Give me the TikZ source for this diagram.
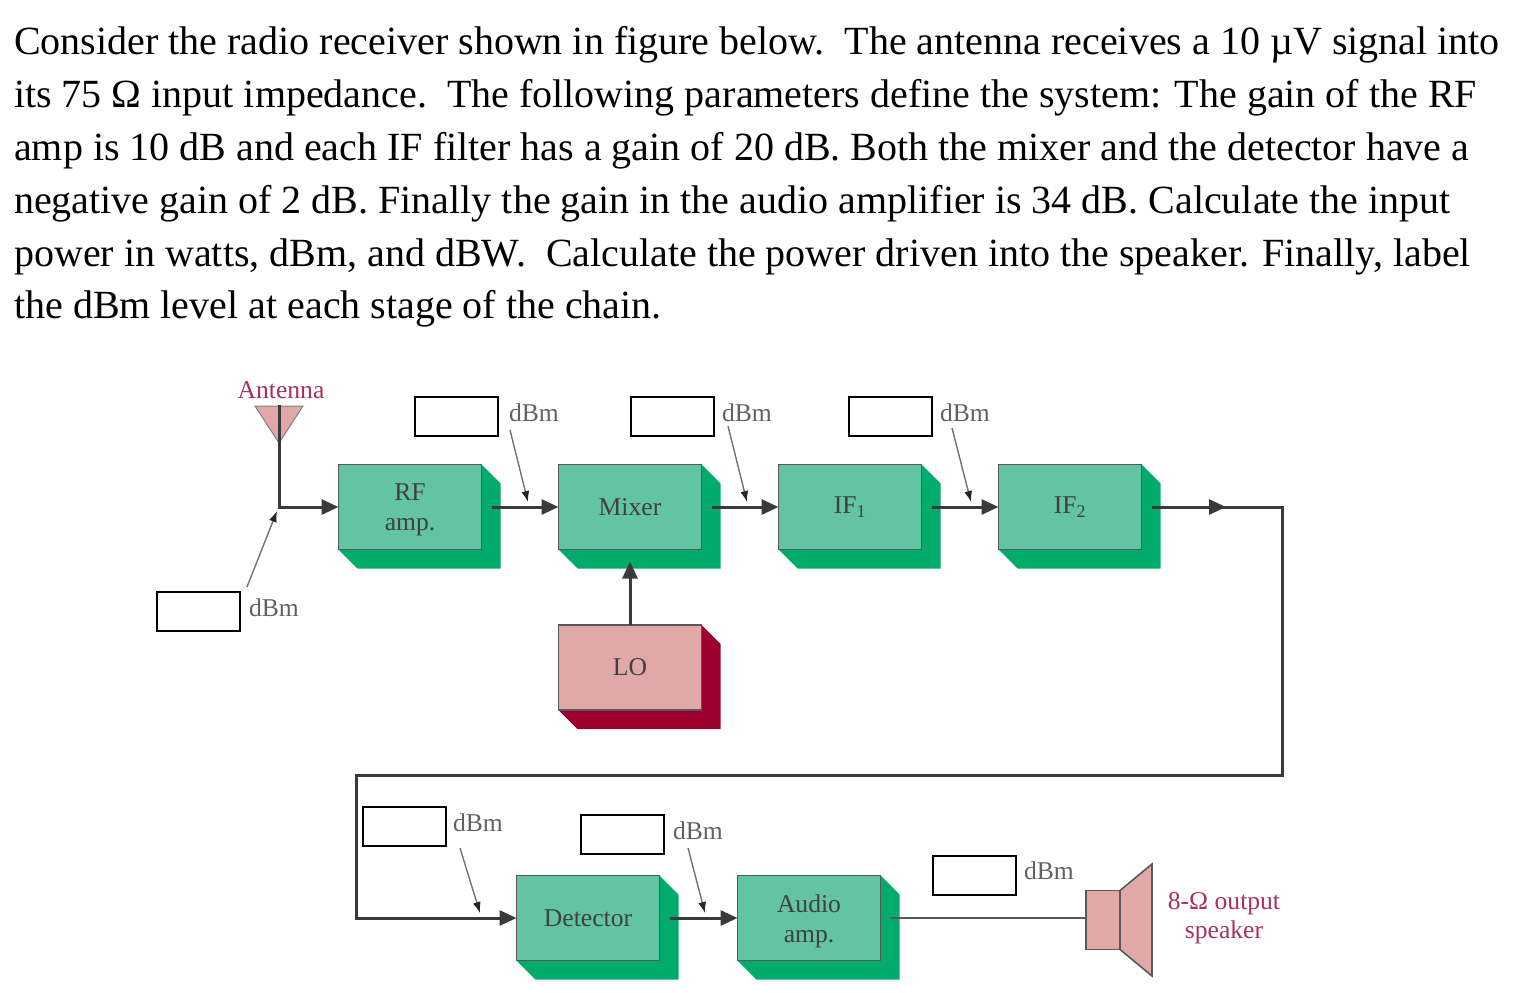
\documentclass[tikz,border=0pt]{standalone}
\usepackage{fontspec}
\setmainfont{Liberation Serif}
\usetikzlibrary{arrows.meta}
\definecolor{gfront}{HTML}{62C4A2}
\definecolor{gside}{HTML}{00AB6C}
\definecolor{pfront}{HTML}{E0A8A6}
\definecolor{pside}{HTML}{9C002F}
\definecolor{crim}{HTML}{A8305F}
\definecolor{wire}{HTML}{3A3A3A}
\tikzset{
  para/.style={anchor=base west,inner sep=0pt,font=\fontsize{40pt}{42pt}\selectfont,text=black},
  front/.style={draw=wire!85,line width=1.4pt,outer sep=0pt,minimum width=143pt,minimum height=85pt,inner sep=0pt,align=center,font=\fontsize{25.6pt}{30pt}\selectfont,text=black!75},
  blank/.style={draw=black,fill=white,line width=1.6pt,outer sep=0pt,minimum width=83pt,minimum height=39pt,inner sep=0pt},
  unit/.style={inner sep=0pt,font=\fontsize{25.6pt}{28pt}\selectfont,text=black!62},
  crimtext/.style={inner sep=0pt,align=center,font=\fontsize{25.6pt}{29pt}\selectfont,text=crim},
  conn/.style={draw=wire,line width=3pt},
  flow/.style={conn,-{Triangle[length=17pt,width=15pt]}},
  pointer/.style={draw=black!55,line width=1.4pt,-{Latex[length=11pt,width=8pt,color=black!85]}}
}
\newcommand{\shadeblock}[6]{%
  \fill[#6] (#2+143,#3) -- ++(19,19) -- ++(0,85) -- ++(-143,0) -- ++(-19,-19) -- cycle;
  \node[front,fill=#5,anchor=north west] (#1) at (#2,#3) {#4};
}
\newcommand{\stagebox}[3]{\node[blank,anchor=north west] (#1) at (#2+0.8,#3+0.8) {};}
\begin{document}
\begin{tikzpicture}[x=1pt,y=-1pt]
\useasboundingbox (0,0) rectangle (1519,993);
\node[para] (l1) at (14,54) {Consider the radio receiver shown in figure below.\ \ The antenna receives a 10 µV signal into};
\node[para] (l2) at (14,107) {its 75 Ω input impedance.\ \ The following parameters define the system: The gain of the RF};
\node[para] (l3) at (14,160) {amp is 10 dB and each IF filter has a gain of 20 dB. Both the mixer and the detector have a};
\node[para] (l4) at (14,213) {negative gain of 2 dB. Finally the gain in the audio amplifier is 34 dB. Calculate the input};
\node[para] (l5) at (14,266) {power in watts, dBm, and dBW.\ \ Calculate the power driven into the speaker. Finally, label};
\node[para] (l6) at (14,318) {the dBm level at each stage of the chain.};

\shadeblock{rf}{338.5}{464.5}{\rule{0pt}{22pt}RF\\amp.}{gfront}{gside}
\shadeblock{mix}{558.5}{464.5}{Mixer}{gfront}{gside}
\shadeblock{ifa}{778.5}{464.5}{IF\textsubscript{1}}{gfront}{gside}
\shadeblock{ifb}{998.5}{464.5}{IF\textsubscript{2}}{gfront}{gside}
\shadeblock{lo}{558.5}{625}{LO}{pfront}{pside}
\shadeblock{det}{516.5}{875.5}{Detector}{gfront}{gside}
\shadeblock{aud}{737.5}{875.5}{\rule{0pt}{24pt}Audio\\amp.}{gfront}{gside}

% antenna
\coordinate (anttop) at (279,406);
\coordinate (antjoin) at (279,507);
\fill[pfront,draw=black!50,line width=1pt] (255,406) -- (303,406) -- (279,443) -- cycle;
\draw[conn,line cap=rect] (anttop) -- (antjoin);
\draw[flow] (antjoin) -- (rf.west);
\node[crimtext] (antlabel) at (281,390) {Antenna};

% chain
\draw[flow] ([xshift=10pt]rf.east) -- (mix.west);
\draw[flow] ([xshift=10pt]mix.east) -- (ifa.west);
\draw[flow] ([xshift=10pt]ifa.east) -- (ifb.west);
\draw[flow] (lo.north) -- ([yshift=-12pt]mix.south);

% long wire
\coordinate (wa) at (1226,507);
\coordinate (wb) at (1282,507);
\coordinate (wc) at (1282,775);
\coordinate (wd) at (356,775);
\draw[conn,line join=miter] ([xshift=10pt]ifb.east) -- (wb) -- (wc) -- (wd) |- ([xshift=-10pt]det.west);
\draw[flow] ([xshift=10pt]ifb.east) -- (wa);
\draw[flow] (wd |- det.west) -- (det.west);
\draw[flow] ([xshift=10pt]det.east) -- (aud.west);

% speaker
\node[draw=black!65,fill=pfront,line width=1.6pt,outer sep=0pt,minimum width=34pt,minimum height=59pt,inner sep=0pt,anchor=west] (spk) at (1086,920) {};
\fill[pfront,draw=black!65,line width=1.6pt] (spk.north east) -- (1152,864) -- (1152,976) -- (spk.south east) -- cycle;
\draw[draw=wire!85,line width=2.4pt] ([xshift=10pt]aud.east) -- (spk.west |- aud.east);
\node[crimtext] (spklabel) at (1224,918) {8-Ω output\\speaker};

% stage boxes
\stagebox{b1}{156}{591}
\stagebox{b2}{414}{396}
\stagebox{b3}{630}{396}
\stagebox{b4}{848}{396}
\stagebox{b5}{362}{806}
\stagebox{b6}{580}{814}
\stagebox{b7}{932}{855}
\node[unit] (u1) at (274,608) {dBm};
\node[unit] (u2) at (534,413) {dBm};
\node[unit] (u3) at (747,413) {dBm};
\node[unit] (u4) at (965,413) {dBm};
\node[unit] (u5) at (478,823) {dBm};
\node[unit] (u6) at (698,831) {dBm};
\node[unit] (u7) at (1049,871) {dBm};

% pointers
\coordinate (p1) at (247,587);
\coordinate (p1e) at (277,511);
\coordinate (p2) at (510,430);
\coordinate (p2e) at (528,502);
\coordinate (p3) at (728,426);
\coordinate (p3e) at (747,502);
\coordinate (p4) at (952,428);
\coordinate (p4e) at (971,502);
\coordinate (p5) at (460,848);
\coordinate (p5e) at (480,913);
\coordinate (p6) at (688,848);
\coordinate (p6e) at (705,913);
\draw[pointer] (p1) -- (p1e);
\draw[pointer] (p2) -- (p2e);
\draw[pointer] (p3) -- (p3e);
\draw[pointer] (p4) -- (p4e);
\draw[pointer] (p5) -- (p5e);
\draw[pointer] (p6) -- (p6e);
\end{tikzpicture}
\end{document}
